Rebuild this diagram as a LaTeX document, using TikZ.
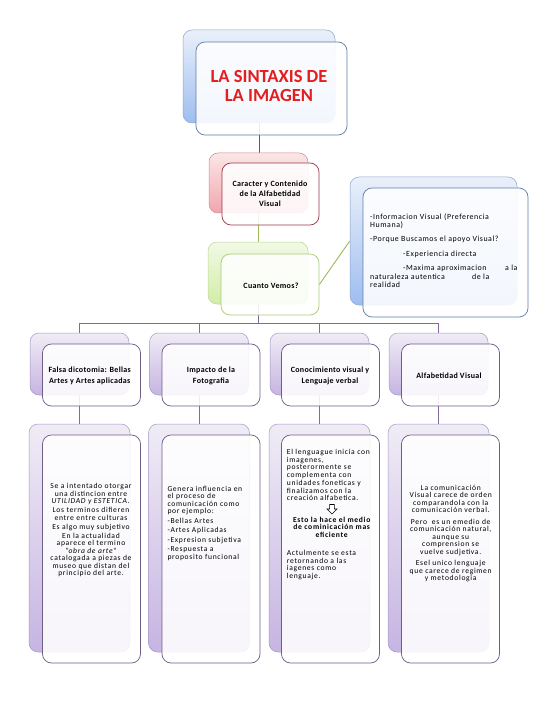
\documentclass[tikz,border=0pt]{standalone}
\usepackage{fontspec}
\setmainfont{Carlito}
\newfontfamily\bodyf{Carlito}[LetterSpace=9]
\newfontfamily\infof{Carlito}[LetterSpace=7]
\newfontfamily\headf{Carlito}[LetterSpace=4]
\usetikzlibrary{calc}
\pgfdeclarelayer{paper}
\pgfdeclarelayer{bg}
\pgfsetlayers{paper,bg,main}
\definecolor{tTop}{HTML}{EAF0FA}
\definecolor{tBot}{HTML}{9EBDF0}
\definecolor{tBk}{HTML}{8EA6CC}
\definecolor{tBorder}{HTML}{5F7FA8}
\definecolor{pTop}{HTML}{FBE6E6}
\definecolor{pBot}{HTML}{F0A6AE}
\definecolor{pBk}{HTML}{D88890}
\definecolor{pBorder}{HTML}{9C3848}
\definecolor{gTop}{HTML}{F2F9E6}
\definecolor{gBot}{HTML}{D2EDA8}
\definecolor{gBk}{HTML}{B8D890}
\definecolor{gBorder}{HTML}{A8CC78}
\definecolor{vTop}{HTML}{F0ECF6}
\definecolor{vBot}{HTML}{C6B4E2}
\definecolor{vBk}{HTML}{A898C4}
\definecolor{vBorder}{HTML}{6E5F86}
\definecolor{redln}{HTML}{A0404E}
\definecolor{greenln}{HTML}{9BBB59}
\definecolor{purpln}{HTML}{806A9E}
\definecolor{titlered}{HTML}{E41E1E}
\begin{document}
\begin{tikzpicture}[x=1pt,y=-1pt,
  bk/.style n args={3}{rounded corners=9pt, draw=#3, line width=0.5pt, top color=#1, bottom color=#2, inner sep=0pt},
  fr/.style={rounded corners=9pt, draw=#1, line width=0.75pt, fill=white, fill opacity=0.88, inner sep=0pt},
  bodytxt/.style={font=\bodyf\fontsize{7.6}{7.5}\selectfont, inner sep=0pt, text=black},
  infotxt/.style={font=\infof\fontsize{7.9}{8.5}\selectfont, inner sep=0pt, text=black},
  headtxt/.style={font=\headf\bfseries\fontsize{8}{10}\selectfont, inner sep=0pt, text=black, align=center},
  conn/.style={line width=0.9pt}]
\useasboundingbox (0,0) rectangle (547,703);
\begin{pgfonlayer}{paper}
\fill[white] (0,0) rectangle (547,703);
\end{pgfonlayer}

% title
\node[bk={tTop}{tBot}{tBk}, minimum width=152pt, minimum height=93pt] (tb) at (259,76.5) {};
\node[fr=tBorder, minimum width=151pt, minimum height=93pt] (tf) at (271.5,88.5) {};
\node[font=\bfseries\fontsize{18.5}{19.3}\selectfont, text=titlered, align=center, inner sep=0pt] (tt) at (269,86.3) {LA SINTAXIS DE\\LA IMAGEN};

% caracter
\node[bk={pTop}{pBot}{pBk}, minimum width=99pt, minimum height=60pt] (cb) at (258.5,183) {};
\node[fr=pBorder, minimum width=97pt, minimum height=62pt] (cf) at (270.5,194) {};
\node[headtxt] (ct) at (270,193.3) {Caracter y Contenido\\de la Alfabetidad\\Visual};

% cuanto
\node[bk={gTop}{gBot}{gBk}, minimum width=100pt, minimum height=62pt] (vb) at (258,273) {};
\node[fr=gBorder, minimum width=98pt, minimum height=61pt] (vf) at (270,284.5) {};
\node[headtxt] (vt) at (271,286) {Cuanto Vemos?};

% info
\node[bk={tTop}{tBot}{tBk}, minimum width=167pt, minimum height=128pt] (inb) at (433.5,241) {};
\node[fr=tBorder, minimum width=165pt, minimum height=129pt] (inf) at (445.5,252.5) {};
\node[infotxt, align=left, anchor=west] (it) at (370,250.8) {-Informacion Visual (Preferencia\\Humana)\\[5.5pt]
-Porque Buscamos el apoyo Visual?\\[6.5pt]
\hspace*{33pt}-Experiencia directa\\[5.5pt]
\hspace*{33pt}\makebox[102pt][l]{-Maxima aproximacion}a la\\
\makebox[102pt][l]{naturaleza autentica}de la\\
realidad};

% columns
\foreach \i/\bx/\fx in {1/79.5/91.5, 2/199/211, 3/319.5/330.5, 4/438.5/450.5}{
  \node[bk={vTop}{vBot}{vBk}, minimum width=99pt, minimum height=62pt] (hb\i) at (\bx,364) {};
  \node[fr=vBorder, minimum width=98pt, minimum height=62pt] (hf\i) at (\fx,375) {};
  \node[bk={vTop}{vBot}{vBk}, minimum width=101pt, minimum height=228pt] (bb\i) at (\bx,538) {};
  \node[fr=vBorder, minimum width=98pt, minimum height=228pt] (bf\i) at (\fx,549) {};
}
\node[headtxt, font=\headf\bfseries\fontsize{8}{11.7}\selectfont] (h1) at (89.7,375.8) {Falsa dicotomia: Bellas\\Artes y Artes aplicadas};
\node[headtxt, font=\headf\bfseries\fontsize{8}{11.7}\selectfont] (h2) at (211,375.8) {Impacto de la\\Fotografia};
\node[headtxt, font=\headf\bfseries\fontsize{8}{11.7}\selectfont] (h3) at (330,375.8) {Conocimiento visual y\\Lenguaje verbal};
\node[headtxt] (h4) at (449,376) {Alfabetidad Visual};

% column texts
\node[bodytxt, align=center] (b1) at (91,530.3) {Se a intentado otorgar\\una distincion entre\\\textit{UTILIDAD y ESTETICA.}\\[1.6pt]
Los terminos difieren\\entre entre culturas\\[1.6pt]
Es algo muy subjetivo\\[1.6pt]
En la actualidad\\aparece el termino\\"\textit{obra de arte}"\\catalogada a piezas de\\museo que distan del\\principio del arte.};

\node[bodytxt, align=left, anchor=west] (b2) at (167.3,523) {Genera influencia en\\el proceso de\\comunicación como\\por ejemplo:\\[2pt]
-Bellas Artes\\[2pt]
-Artes Aplicadas\\[2pt]
-Expresion subjetiva\\[2pt]
-Respuesta a\\proposito funcional};

\node[bodytxt, font=\bodyf\fontsize{7.6}{7.77}\selectfont, align=left, anchor=west] (b3a) at (286.7,475) {El lenguague inicia con\\imagenes,\\posterormente se\\complementa con\\unidades foneticas y\\finalizamos con la\\creación alfabetica.};
\draw[line width=0.6pt, fill=white] (329.6,504.5) -- (334.4,504.5) -- (334.4,509) -- (337,509) -- (332,514) -- (327,509) -- (329.6,509) -- cycle;
\node[bodytxt, font=\bodyf\bfseries\fontsize{7.6}{7.4}\selectfont, align=center] (b3b) at (331.7,527) {Esto la hace el medio\\de cominicación mas\\eficiente};
\node[bodytxt, font=\bodyf\fontsize{7.6}{7.8}\selectfont, align=left, anchor=west] (b3c) at (286.7,565) {Actulmente se esta\\retornando a las\\iagenes como\\lenguaje.};

\node[bodytxt, align=center] (b4) at (450.7,533.7) {La comunicación\\Visual carece de orden\\comparandola con la\\comunicación verbal.\\[4pt]
Pero~ es un emedio de\\comunicación natural,\\aunque su\\comprension se\\vuelve sudjetiva.\\[4pt]
Esel unico lenguaje\\que carece de regimen\\y metodologia};

% connectors
\begin{pgfonlayer}{bg}
\draw[conn, redln] (tb.south) -- (tb.south |- cb.north);
\draw[conn, greenln] (cb.south) -- (cb.south |- vb.north);
\draw[conn, greenln] (vf.east) -- (inb.west);
\coordinate (bus) at (0,323.5);
\foreach \i in {1,...,4}{
  \draw[conn, purpln] (vb.south) -- (vb.south |- bus) -| (hb\i.north);
  \draw[conn, purpln] (hb\i.south) -- (bb\i.north);
}
\end{pgfonlayer}
\end{tikzpicture}
\end{document}
